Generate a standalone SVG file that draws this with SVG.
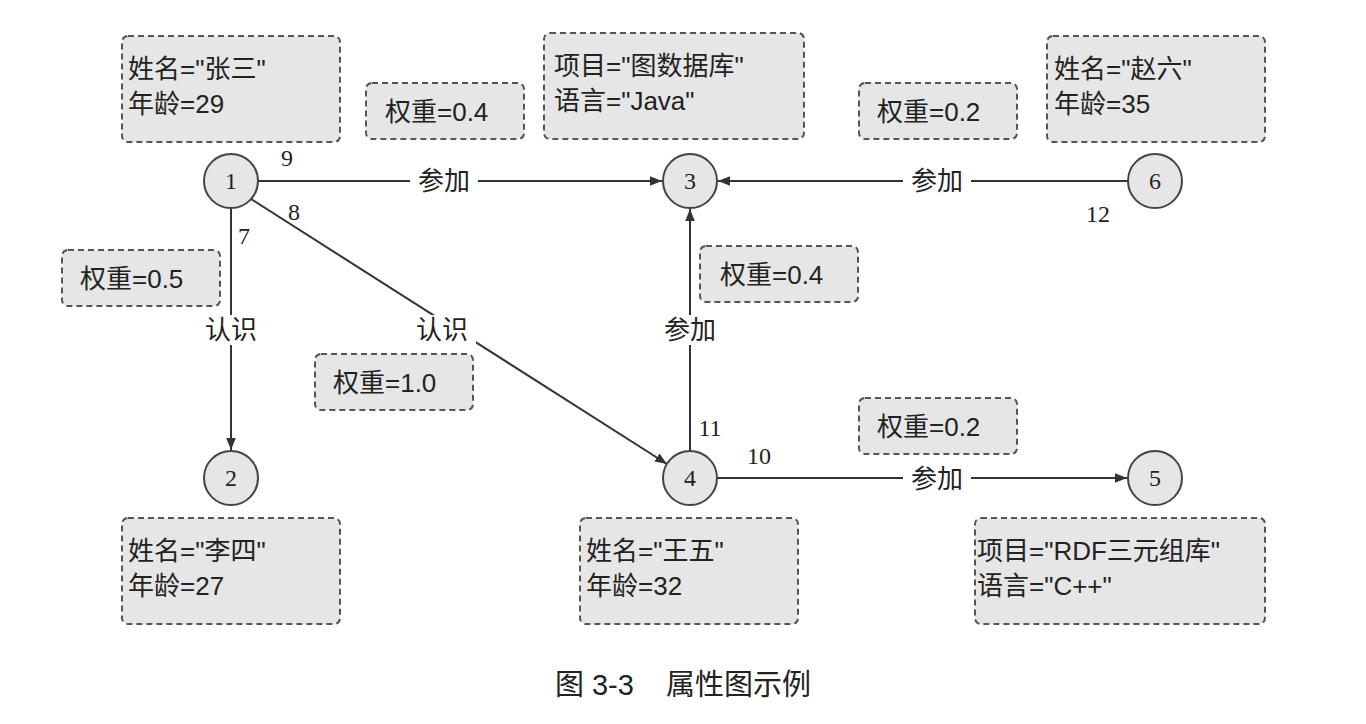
<svg xmlns="http://www.w3.org/2000/svg" width="1366" height="724" viewBox="0 0 1366 724">
<style>
.box{fill:#e6e6e6;stroke:#555;stroke-width:2;stroke-dasharray:6 4}
.t{font-family:"Liberation Sans","Noto Sans CJK SC",sans-serif;font-size:26px;fill:#222}
.n{font-family:"Liberation Serif",serif;font-size:24px;fill:#222;text-anchor:middle}
.nd{fill:#e6e6e6;stroke:#444;stroke-width:2}
.e{stroke:#333;stroke-width:2;fill:none;marker-end:url(#a)}
.lb{fill:#fff}
.el{font-family:"Liberation Sans","Noto Sans CJK SC",sans-serif;font-size:26px;fill:#222;text-anchor:middle}
</style>
<defs><marker id="a" viewBox="0 0 10 10" refX="10" refY="5" markerWidth="12" markerHeight="12" markerUnits="userSpaceOnUse" orient="auto"><path d="M0,1 L10,5 L0,9 z" fill="#333"/></marker></defs>
<rect width="1366" height="724" fill="#fff"/>
<g id="connectors">
<line class="e" x1="258" y1="181" x2="662" y2="181"/>
<line class="e" x1="1128" y1="181" x2="718" y2="181"/>
<line class="e" x1="231" y1="208" x2="231" y2="450"/>
<line class="e" x1="251" y1="199" x2="667" y2="464"/>
<line class="e" x1="690" y1="451" x2="690" y2="209"/>
<line class="e" x1="717" y1="478" x2="1127" y2="478"/>
<rect class="lb" x="410" y="166" width="68" height="30"/><text class="el" x="444" y="190">参加</text>
<rect class="lb" x="903" y="166" width="68" height="30"/><text class="el" x="937" y="190">参加</text>
<rect class="lb" x="197" y="315" width="68" height="30"/><text class="el" x="231" y="339">认识</text>
<rect class="lb" x="408" y="315" width="68" height="30"/><text class="el" x="442" y="339">认识</text>
<rect class="lb" x="656" y="315" width="68" height="30"/><text class="el" x="690" y="339">参加</text>
<rect class="lb" x="903" y="464" width="68" height="30"/><text class="el" x="937" y="488">参加</text>
<text class="n" x="287" y="166">9</text>
<text class="n" x="294" y="220">8</text>
<text class="n" x="244" y="244">7</text>
<text class="n" x="1098" y="222">12</text>
<text class="n" x="710" y="436">11</text>
<text class="n" x="759" y="464">10</text>
</g>
<g id="n1"><circle class="nd" cx="231" cy="181" r="27"/><text class="n" x="231" y="189">1</text></g>
<g id="n2"><circle class="nd" cx="231" cy="478" r="27"/><text class="n" x="231" y="486">2</text></g>
<g id="n3"><circle class="nd" cx="690" cy="181" r="27"/><text class="n" x="690" y="189">3</text></g>
<g id="n4"><circle class="nd" cx="690" cy="478" r="27"/><text class="n" x="690" y="486">4</text></g>
<g id="n5"><circle class="nd" cx="1155" cy="478" r="27"/><text class="n" x="1155" y="486">5</text></g>
<g id="n6"><circle class="nd" cx="1155" cy="181" r="27"/><text class="n" x="1155" y="189">6</text></g>
<g id="p1"><rect class="box" x="122" y="36" width="218" height="106" rx="6"/><text class="t" x="128" y="78">姓名="张三"</text><text class="t" x="128" y="113">年龄=29</text></g>
<g id="w1"><rect class="box" x="366" y="83" width="158" height="56" rx="6"/><text class="t" x="385" y="121">权重=0.4</text></g>
<g id="p3"><rect class="box" x="544" y="33" width="260" height="106" rx="6"/><text class="t" x="554" y="75">项目="图数据库"</text><text class="t" x="554" y="110">语言="Java"</text></g>
<g id="w2"><rect class="box" x="859" y="83" width="158" height="56" rx="6"/><text class="t" x="877" y="121">权重=0.2</text></g>
<g id="p6"><rect class="box" x="1047" y="36" width="218" height="106" rx="6"/><text class="t" x="1054" y="78">姓名="赵六"</text><text class="t" x="1054" y="113">年龄=35</text></g>
<g id="w3"><rect class="box" x="62" y="250" width="158" height="56" rx="6"/><text class="t" x="80" y="288">权重=0.5</text></g>
<g id="w4"><rect class="box" x="700" y="246" width="158" height="56" rx="6"/><text class="t" x="720" y="284">权重=0.4</text></g>
<g id="w5"><rect class="box" x="315" y="354" width="158" height="56" rx="6"/><text class="t" x="333" y="392">权重=1.0</text></g>
<g id="w6"><rect class="box" x="859" y="398" width="158" height="56" rx="6"/><text class="t" x="877" y="436">权重=0.2</text></g>
<g id="p2"><rect class="box" x="122" y="518" width="218" height="106" rx="6"/><text class="t" x="128" y="560">姓名="李四"</text><text class="t" x="128" y="595">年龄=27</text></g>
<g id="p4"><rect class="box" x="580" y="518" width="218" height="106" rx="6"/><text class="t" x="586" y="560">姓名="王五"</text><text class="t" x="586" y="595">年龄=32</text></g>
<g id="p5"><rect class="box" x="975" y="518" width="290" height="106" rx="6"/><text class="t" x="977" y="560">项目="RDF三元组库"</text><text class="t" x="977" y="595">语言="C++"</text></g>
<text x="683" y="695" font-family="Liberation Sans,Noto Sans CJK SC,sans-serif" font-size="29" fill="#222" text-anchor="middle" xml:space="preserve">图 3-3    属性图示例</text>
</svg>
